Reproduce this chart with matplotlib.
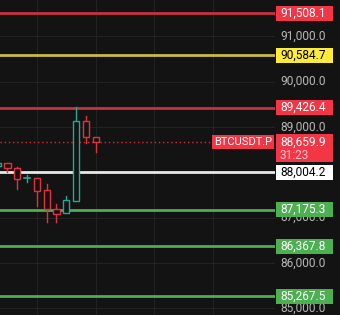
import matplotlib.pyplot as plt
import matplotlib.transforms as mtransforms
from matplotlib.patches import Rectangle

# candles (bar index, open, high, low, close)
idx = [-1, 0, 1, 2, 3, 4, 5, 6, 7, 8, 9]
opens = [88140, 88206, 88096, 87870, 87875, 87610, 87191, 87103, 87368, 89132, 88779]
highs = [88215, 88215, 88118, 87941, 87880, 87743, 87301, 87478, 89441, 89243, 88779]
lows = [88120, 88007, 87632, 87787, 87257, 86904, 86904, 87103, 87368, 88647, 88448]
closes = [88206, 88096, 87853, 87870, 87588, 87191, 87081, 87390, 89132, 88779, 88659.9]

levels = [91508.1, 90584.7, 89426.4, 88004.2, 87175.3, 86367.8, 85267.5]
level_colors = ['#f23645', '#ffeb3b', '#f23645', '#ffffff', '#4caf50', '#4caf50', '#4caf50']
level_text = ['white', 'black', 'white', 'black', 'white', 'white', 'white']
line_colors = ['#c8313f', '#c9bb45', '#c8313f', '#e8e8e8', '#4caf50', '#4caf50', '#4caf50']

ticks = [85000, 86000, 87000, 88000, 89000, 90000, 91000]
last_price = 88659.9
countdown = '31:23'
symbol = 'BTCUSDT.P'

bg = '#131313'
up = '#22ab94'
down = '#e0323f'

plt.rcParams['font.family'] = ['Roboto', 'DejaVu Sans']

fig = plt.figure(figsize=(3.4, 3.15), dpi=100, facecolor=bg)
ax = fig.add_axes([0, 0, 275 / 340, 1])
ax.set_facecolor(bg)
ax.set_xlim(-0.765, 27.3)
ax.set_ylim(84853, 91802)
for s in ax.spines.values():
    s.set_visible(False)
ax.set_xticks([])
ax.set_yticks([])

px = (91802 - 84853) / 315  # data units per pixel

# grid
for t in ticks:
    ax.axhline(t, color='#222222', lw=0.8, zorder=0)
for gx in [3, 9, 15, 21]:
    ax.axvline(gx, color='#222222', lw=0.8, zorder=0)

# level lines
for lv, c in zip(levels, line_colors):
    ax.axhline(lv, color=c, lw=2, zorder=1)
ax.axhline(last_price, color='#d0303c', lw=1, ls=(0, (1, 2)), zorder=1)

# hollow candles
w = 0.62
for i, o, h, l, c in zip(idx, opens, highs, lows, closes):
    col = up if c >= o else down
    top, bot = max(o, c), min(o, c)
    ax.plot([i, i], [top, h], color=col, lw=1, zorder=3)
    ax.plot([i, i], [l, bot], color=col, lw=1, zorder=3)
    if top - bot < 15:
        ax.plot([i - w / 2, i + w / 2], [o, o], color=col, lw=1.2, zorder=3)
    else:
        ax.add_patch(Rectangle((i - w / 2, bot), w, top - bot, facecolor=bg,
                               edgecolor=col, lw=1, zorder=4))

# price scale
tr = mtransforms.blended_transform_factory(ax.transAxes, ax.transData)
x0, x1 = 276 / 275, 333 / 275
xt = 280 / 275
fs = 8.6
for t in ticks:
    ax.text(xt, t, f'{t:,.1f}', transform=tr, color='#b8b8b8', fontsize=fs,
            va='center', ha='left', clip_on=False, zorder=5)

for lv, c, tc in zip(levels, level_colors, level_text):
    ax.add_patch(Rectangle((x0, lv - 7.5 * px), x1 - x0, 15 * px, transform=tr,
                           facecolor=c, edgecolor='none', clip_on=False, zorder=6))
    ax.text(xt, lv, f'{lv:,.1f}', transform=tr, color=tc, fontsize=fs,
            va='center', ha='left', clip_on=False, zorder=7)

# last price box with countdown
ax.add_patch(Rectangle((x0, last_price - 20 * px), x1 - x0, 28 * px, transform=tr,
                       facecolor='#f23645', edgecolor='none', clip_on=False, zorder=6))
ax.text(xt, last_price, f'{last_price:,.1f}', transform=tr, color='white', fontsize=fs,
        va='center', ha='left', clip_on=False, zorder=7)
ax.text(xt, last_price - 13 * px, countdown, transform=tr, color='#ffc4ca', fontsize=fs,
        va='center', ha='left', clip_on=False, zorder=7)

# symbol label
ax.add_patch(Rectangle((212 / 275, last_price - 7 * px), 62 / 275, 14 * px, transform=tr,
                       facecolor='#f23645', edgecolor='none', clip_on=False, zorder=6))
ax.text(243 / 275, last_price, symbol, transform=tr, color='white', fontsize=8.0,
        va='center', ha='center', clip_on=False, zorder=7)

fig.savefig('out.png', dpi=100, facecolor=bg)
